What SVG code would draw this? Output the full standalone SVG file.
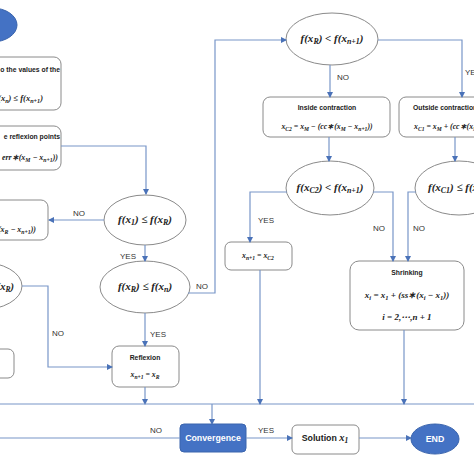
<svg xmlns="http://www.w3.org/2000/svg" width="474" height="474" viewBox="0 0 474 474">
<defs>
<marker id="ah" markerWidth="6" markerHeight="6" refX="5" refY="3" orient="auto" markerUnits="userSpaceOnUse">
<path d="M0,0 L6,3 L0,6 z" fill="#4a72b8"/>
</marker>
<style>
.box{fill:#fff;stroke:#8a8a8a;stroke-width:1}
.ell{fill:#fff;stroke:#8a8a8a;stroke-width:1}
.blue{fill:#4472c4;stroke:#3a64ad;stroke-width:1}
.ln{fill:none;stroke:#7896c8;stroke-width:1.2}
.ar{fill:none;stroke:#7896c8;stroke-width:1.2;marker-end:url(#ah)}
.lbl{font-family:"Liberation Sans",Arial,sans-serif;font-size:8px;fill:#333}
.ttl{font-family:"Liberation Sans",Arial,sans-serif;font-size:6.8px;font-weight:bold;fill:#222;text-anchor:middle}
.m{font-family:"Liberation Serif","Times New Roman",serif;font-style:italic;font-weight:bold;fill:#222}
.m10{font-size:11px;text-anchor:middle}
.m7{font-size:7.8px;text-anchor:middle}
.s{font-size:72%;baseline-shift:-2px}
.wt{font-family:"Liberation Sans",Arial,sans-serif;font-weight:bold;fill:#fff;text-anchor:middle;font-size:8.8px}
</style>
</defs>
<rect width="474" height="474" fill="#fff"/>

<g id="start"><ellipse class="blue" cx="-8" cy="25" rx="25" ry="17"/></g>

<g id="sort">
<rect class="box" x="-10" y="57" width="71" height="53" rx="7"/>
<text class="ttl" x="60" y="72" style="text-anchor:end">o the values of the</text>
<text class="m" x="43" y="101" font-size="8.5" text-anchor="end">(x<tspan class="s">n</tspan>) ≤ f(x<tspan class="s">n+1</tspan>)</text>
</g>

<g id="reflexpts">
<rect class="box" x="-10" y="126" width="71" height="44" rx="7"/>
<text class="ttl" x="60" y="139" style="text-anchor:end">e reflexion points</text>
<text class="m" x="58" y="160" font-size="8" text-anchor="end">err∗(x<tspan class="s">M</tspan> − x<tspan class="s">n+1</tspan>))</text>
</g>

<g id="expansion">
<rect class="box" x="-10" y="200" width="58" height="40" rx="7"/>
<text class="m" x="36" y="232" font-size="8" text-anchor="end">(x<tspan class="s">R</tspan> − x<tspan class="s">n+1</tspan>))</text>
</g>

<g id="leftcond">
<ellipse class="ell" cx="-20" cy="286" rx="42" ry="24"/>
<text class="m" x="14" y="290" font-size="10.5" text-anchor="end">(x<tspan class="s">R</tspan>)</text>
</g>

<g id="leftbox"><rect class="box" x="-10" y="349" width="24" height="29" rx="6"/></g>

<g id="c1">
<ellipse class="ell" cx="145" cy="220" rx="41" ry="25"/>
<text class="m m10" x="145" y="223">f(x<tspan class="s">1</tspan>) ≤ f(x<tspan class="s">R</tspan>)</text>
</g>

<g id="c2">
<ellipse class="ell" cx="145" cy="287" rx="45" ry="26"/>
<text class="m m10" x="145" y="290">f(x<tspan class="s">R</tspan>) ≤ f(x<tspan class="s">n</tspan>)</text>
</g>

<g id="reflexion">
<rect class="box" x="112" y="346" width="67" height="41" rx="7"/>
<text class="ttl" x="145" y="360">Reflexion</text>
<text class="m m7" x="145" y="377">x<tspan class="s">n+1</tspan> = x<tspan class="s">R</tspan></text>
</g>

<g id="c3">
<ellipse class="ell" cx="332" cy="39" rx="46" ry="26"/>
<text class="m m10" x="332" y="42">f(x<tspan class="s">R</tspan>) &lt; f(x<tspan class="s">n+1</tspan>)</text>
</g>

<g id="inside">
<rect class="box" x="263" y="97" width="127" height="40" rx="7"/>
<text class="ttl" x="327" y="110">Inside contraction</text>
<text class="m m7" x="327" y="129">x<tspan class="s">C2</tspan> = x<tspan class="s">M</tspan> − (cc∗(x<tspan class="s">M</tspan> − x<tspan class="s">n+1</tspan>))</text>
</g>

<g id="outside">
<rect class="box" x="399" y="97" width="110" height="40" rx="7"/>
<text class="ttl" x="413" y="110" style="text-anchor:start">Outside contraction</text>
<text class="m" x="414" y="129" font-size="7.8">x<tspan class="s">C1</tspan> = x<tspan class="s">M</tspan> + (cc∗(x<tspan class="s">M</tspan> − x<tspan class="s">n+1</tspan>))</text>
</g>

<g id="c4">
<ellipse class="ell" cx="330" cy="188" rx="44" ry="27"/>
<text class="m m10" x="330" y="191">f(x<tspan class="s">C2</tspan>) &lt; f(x<tspan class="s">n+1</tspan>)</text>
</g>

<g id="c5">
<ellipse class="ell" cx="459" cy="188" rx="44" ry="27"/>
<text class="m" x="428" y="191" font-size="11">f(x<tspan class="s">C1</tspan>) ≤ f(x<tspan class="s">n+1</tspan>)</text>
</g>

<g id="accept">
<rect class="box" x="225" y="242" width="67" height="28" rx="6"/>
<text class="m m7" x="258" y="258">x<tspan class="s">n+1</tspan> = x<tspan class="s">C2</tspan></text>
</g>

<g id="shrink">
<rect class="box" x="350" y="261" width="114" height="69" rx="9"/>
<text class="ttl" x="407" y="275">Shrinking</text>
<text class="m m7" x="407" y="298" style="font-size:9px">x<tspan class="s">i</tspan> = x<tspan class="s">1</tspan> + (ss∗(x<tspan class="s">i</tspan> − x<tspan class="s">1</tspan>))</text>
<text class="m m7" x="407" y="320" style="font-size:9px">i = 2,⋯,n + 1</text>
</g>

<g id="convergence">
<rect class="blue" x="180" y="424" width="66" height="28" rx="4"/>
<text class="wt" x="213" y="441">Convergence</text>
</g>

<g id="solution">
<rect class="box" x="292" y="425" width="67" height="29" rx="5"/>
<text x="325" y="441" text-anchor="middle" font-family="Liberation Sans, Arial, sans-serif" font-weight="bold" font-size="8.8" fill="#222">Solution <tspan font-family="Liberation Serif, serif" font-style="italic" font-size="10.5">x<tspan class="s">1</tspan></tspan></text>
</g>

<g id="end">
<ellipse class="blue" cx="435" cy="439" rx="24" ry="15"/>
<text class="wt" x="435" y="442">END</text>
</g>

<g id="connectors">
<path class="ar" d="M61,146 H146 V194"/>
<path class="ar" d="M104,220 H49"/>
<path class="ar" d="M145,245 V261"/>
<path class="ar" d="M188,293 H215 V40 H286"/>
<path class="ar" d="M145,313 V346"/>
<path class="ar" d="M22,286 H48 V367 H112"/>
<path class="ar" d="M145,387 V404"/>
<path class="ln" d="M0,404 H474"/>
<path class="ar" d="M212,404 V424"/>
<path class="ln" d="M0,438 H180"/>
<path class="ar" d="M246,438 H292"/>
<path class="ar" d="M359,438 H411"/>
<path class="ar" d="M330,65 V97"/>
<path class="ar" d="M378,40 H462 V97"/>
<path class="ar" d="M329,137 V161"/>
<path class="ar" d="M455,137 V161"/>
<path class="ar" d="M287,192 H250 V242"/>
<path class="ar" d="M373,192 H393 V261"/>
<path class="ar" d="M416,192 H408 V261"/>
<path class="ar" d="M260,270 V404"/>
<path class="ar" d="M404,330 V404"/>
</g>

<g id="labels" class="lbl">
<text x="73" y="216">NO</text>
<text x="120" y="259">YES</text>
<text x="196" y="289">NO</text>
<text x="150" y="337">YES</text>
<text x="52" y="336">NO</text>
<text x="150" y="433">NO</text>
<text x="258" y="433">YES</text>
<text x="337" y="80">NO</text>
<text x="465" y="75">YES</text>
<text x="258" y="223">YES</text>
<text x="373" y="231">NO</text>
<text x="413" y="231">NO</text>
</g>
</svg>
